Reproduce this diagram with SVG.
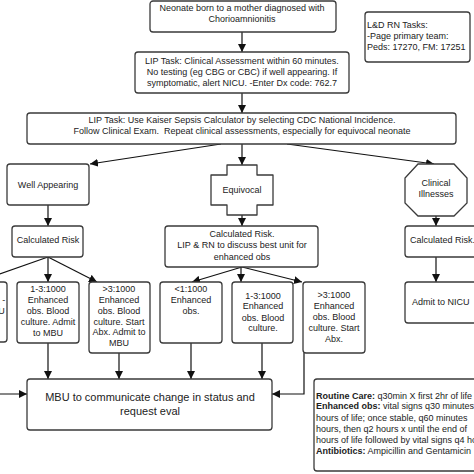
<svg xmlns="http://www.w3.org/2000/svg" width="474" height="474" viewBox="0 0 474 474">
<defs>
<marker id="ah" markerUnits="userSpaceOnUse" markerWidth="8" markerHeight="8" refX="8" refY="4" orient="auto">
<path d="M0,0 L8,4 L0,8 z" fill="#111"/>
</marker>
<style>
.b{fill:#fff;stroke:#3a3a3a;stroke-width:1.3}
.t{font-family:"Liberation Sans",Arial,sans-serif;font-size:9px;fill:#222;text-anchor:middle}
.l{text-anchor:start}
.big{font-size:11px}
.bd{font-weight:bold}
.c{fill:none;stroke:#111;stroke-width:1.2;marker-end:url(#ah)}
</style>
</defs>
<rect width="474" height="474" fill="#fff"/>
<g id="connectors">
<line class="c" x1="242" y1="32" x2="242" y2="52"/>
<line class="c" x1="242" y1="93" x2="242" y2="113"/>
<line class="c" x1="242" y1="144" x2="242" y2="165"/>
<line class="c" x1="221" y1="144" x2="90" y2="164"/>
<line class="c" x1="287" y1="144" x2="434" y2="164"/>
<line class="c" x1="48" y1="205" x2="48" y2="226"/>
<line class="c" x1="242" y1="215" x2="242" y2="226"/>
<line class="c" x1="436" y1="216" x2="436" y2="226"/>
<line class="c" x1="48" y1="257" x2="-23" y2="282"/>
<line class="c" x1="48" y1="257" x2="48" y2="282"/>
<line class="c" x1="48" y1="257" x2="97" y2="282"/>
<line class="c" x1="242" y1="267" x2="192" y2="282"/>
<line class="c" x1="241" y1="267" x2="241" y2="282"/>
<line class="c" x1="242" y1="267" x2="302" y2="282"/>
<line class="c" x1="436" y1="257" x2="436" y2="282"/>
<line class="c" x1="48" y1="343" x2="48" y2="379"/>
<line class="c" x1="119" y1="353" x2="119" y2="379"/>
<line class="c" x1="191" y1="343" x2="191" y2="379"/>
<line class="c" x1="262" y1="343" x2="262" y2="379"/>
<polyline class="c" points="304,353 304,394 272,394"/>
<line class="c" x1="-10" y1="394" x2="27" y2="394"/>
</g>
<g id="n-neonate">
<rect class="b" x="150" y="1" width="186" height="31" rx="3"/>
<text class="t" x="242" y="11">Neonate born to a mother diagnosed with</text>
<text class="t" x="242" y="22">Chorioamnionitis</text>
</g>
<g id="n-ld">
<rect class="b" x="365" y="12" width="105" height="50" rx="3"/>
<text class="t l" x="367" y="28">L&amp;D RN Tasks:</text>
<text class="t l" x="367" y="39">-Page primary team:</text>
<text class="t l" x="367" y="50">Peds: 17270, FM: 17251</text>
</g>
<g id="n-lip1">
<rect class="b" x="135" y="52" width="214" height="41" rx="3"/>
<text class="t" x="242" y="64">LIP Task: Clinical Assessment within 60 minutes.</text>
<text class="t" x="242" y="75">No testing (eg CBG or CBC) if well appearing. If</text>
<text class="t" x="242" y="86">symptomatic, alert NICU. -Enter Dx code: 762.7</text>
</g>
<g id="n-lip2">
<rect class="b" x="27" y="113" width="429" height="31" rx="3"/>
<text class="t" x="242" y="123">LIP Task: Use Kaiser Sepsis Calculator by selecting CDC National Incidence.</text>
<text class="t" x="242" y="134">Follow Clinical Exam.&#160; Repeat clinical assessments, especially for equivocal neonate</text>
</g>
<g id="n-well">
<rect class="b" x="7" y="164" width="82" height="41" rx="3"/>
<text class="t" x="48" y="188">Well Appearing</text>
</g>
<g id="n-equiv">
<path class="b" stroke-linejoin="round" d="M227,165 H257 V175 H273 V205 H257 V215 H227 V205 H211 V175 H227 Z"/>
<text class="t" x="242" y="193">Equivocal</text>
</g>
<g id="n-clin">
<polygon class="b" points="418,164 454,164 467,178 467,203 454,216 418,216 405,203 405,178"/>
<text class="t" x="436" y="186">Clinical</text>
<text class="t" x="436" y="197">Illnesses</text>
</g>
<g id="n-cr-left">
<rect class="b" x="12" y="226" width="71" height="31" rx="3"/>
<text class="t" x="48" y="243">Calculated Risk</text>
</g>
<g id="n-cr-mid">
<rect class="b" x="165" y="226" width="153" height="41" rx="3"/>
<text class="t" x="242" y="237">Calculated Risk.</text>
<text class="t" x="242" y="248">LIP &amp; RN to discuss best unit for</text>
<text class="t" x="242" y="260">enhanced obs</text>
</g>
<g id="n-cr-right">
<rect class="b" x="405" y="226" width="75" height="31" rx="3"/>
<text class="t l" x="410" y="243">Calculated Risk.</text>
</g>
<g id="n-left-lt1">
<rect class="b" x="-53" y="282" width="60" height="60" rx="3"/>
<text class="t" x="-23" y="303">Routine care -</text>
<text class="t" x="-23" y="314">Admit to MBU</text>
</g>
<g id="n-left-13">
<rect class="b" x="17" y="282" width="62" height="61" rx="3"/>
<text class="t" x="48" y="292">1-3:1000</text>
<text class="t" x="48" y="303">Enhanced</text>
<text class="t" x="48" y="314">obs. Blood</text>
<text class="t" x="48" y="325">culture. Admit</text>
<text class="t" x="48" y="336">to MBU</text>
</g>
<g id="n-left-gt3">
<rect class="b" x="89" y="282" width="61" height="71" rx="3"/>
<text class="t" x="119" y="292">&gt;3:1000</text>
<text class="t" x="119" y="303">Enhanced</text>
<text class="t" x="119" y="314">obs. Blood</text>
<text class="t" x="119" y="325">culture. Start</text>
<text class="t" x="119" y="335">Abx. Admit to</text>
<text class="t" x="119" y="346">MBU</text>
</g>
<g id="n-mid-lt1">
<rect class="b" x="160" y="282" width="62" height="61" rx="3"/>
<text class="t" x="191" y="292">&lt;1:1000</text>
<text class="t" x="191" y="303">Enhanced</text>
<text class="t" x="191" y="314">obs.</text>
</g>
<g id="n-mid-13">
<rect class="b" x="232" y="282" width="61" height="61" rx="3"/>
<text class="t" x="263" y="299">1-3:1000</text>
<text class="t" x="263" y="309">Enhanced</text>
<text class="t" x="263" y="321">obs. Blood</text>
<text class="t" x="263" y="331">culture.</text>
</g>
<g id="n-mid-gt3">
<rect class="b" x="303" y="282" width="62" height="71" rx="3"/>
<text class="t" x="334" y="298">&gt;3:1000</text>
<text class="t" x="334" y="309">Enhanced</text>
<text class="t" x="334" y="320">obs. Blood</text>
<text class="t" x="334" y="331">culture. Start</text>
<text class="t" x="334" y="342">Abx.</text>
</g>
<g id="n-nicu">
<rect class="b" x="405" y="282" width="75" height="41" rx="3"/>
<text class="t l" x="412" y="305">Admit to NICU</text>
</g>
<g id="n-mbu">
<rect class="b" x="27" y="379" width="245" height="51" rx="3"/>
<text class="t big" x="150" y="401">MBU to communicate change in status and</text>
<text class="t big" x="150" y="415">request eval</text>
</g>
<g id="n-legend">
<rect class="b" x="314" y="379" width="170" height="92" rx="3"/>
<text class="t l" x="316" y="399"><tspan class="bd">Routine Care:</tspan> q30min X first 2hr of life</text>
<text class="t l" x="316" y="409"><tspan class="bd">Enhanced obs:</tspan> vital signs q30 minutes</text>
<text class="t l" x="316" y="421">hours of life; once stable, q60 minutes</text>
<text class="t l" x="316" y="432">hours, then q2 hours x until the end of</text>
<text class="t l" x="316" y="443">hours of life followed by vital signs q4 hours</text>
<text class="t l" x="316" y="454"><tspan class="bd">Antibiotics:</tspan> Ampicillin and Gentamicin</text>
</g>
</svg>
